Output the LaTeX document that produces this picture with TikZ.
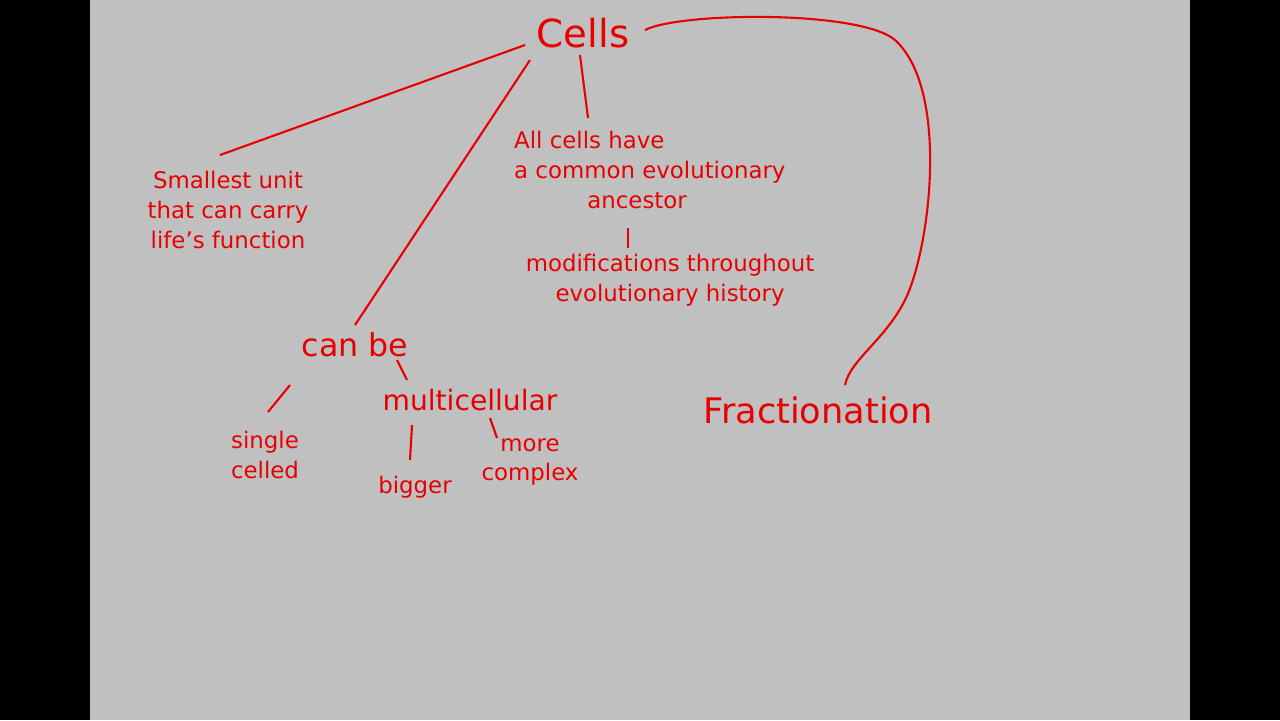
\documentclass[tikz,border=0pt]{standalone}
\usepackage{fontspec}
\setmainfont{DejaVu Sans}
\begin{document}
\begin{tikzpicture}[x=0.01cm,y=-0.01cm,
  txt/.style={text=hred,align=center,inner sep=1pt,font=\fontsize{6.5}{8.5}\selectfont},
  big/.style={text=hred,inner sep=1pt,font=\fontsize{11}{13}\selectfont},
  con/.style={draw=hred,line width=0.6pt}]
\definecolor{hred}{RGB}{232,0,0}
\definecolor{bg}{RGB}{192,192,192}
\fill[black] (0,0) rectangle (1280,720);
\fill[bg] (90,0) rectangle (1190,720);
\useasboundingbox (0,0) rectangle (1280,720);
\node[big] (cells) at (583,33) {Cells};
\node[txt] (small) at (228,210) {Smallest unit\\that can carry\\life's function};
\node[txt,align=left,anchor=west] (all) at (510,170) {All cells have\\a common evolutionary\\\hspace*{3.2em}ancestor};
\node[txt] (mod) at (670,280) {modifications throughout\\evolutionary history};
\node[big,font=\fontsize{9}{11}\selectfont] (canbe) at (355,345) {can be};
\node[txt] (single) at (265,455) {single\\celled};
\node[txt,font=\fontsize{8}{10}\selectfont] (multi) at (470,400) {multicellular};
\node[txt] (bigger) at (415,487) {bigger};
\node[txt] (complex) at (530,462) {more\\complex};
\node[big,font=\fontsize{10}{12}\selectfont] (frac) at (818,410) {Fractionation};
\draw[con] (525,45) -- (220,155);
\draw[con] (530,60) -- (355,325);
\draw[con] (580,55) -- (588,118);
\draw[con] (645,30) .. controls (680,12) and (860,10) .. (895,40)
  .. controls (950,90) and (930,250) .. (905,300) .. controls (885,340) and (850,360) .. (845,385);
\draw[con] (628,228) -- (628,248);
\draw[con] (290,385) -- (268,412);
\draw[con] (397,360) -- (407,380);
\draw[con] (412,425) -- (410,460);
\draw[con] (490,418) -- (497,438);
\end{tikzpicture}
\end{document}
